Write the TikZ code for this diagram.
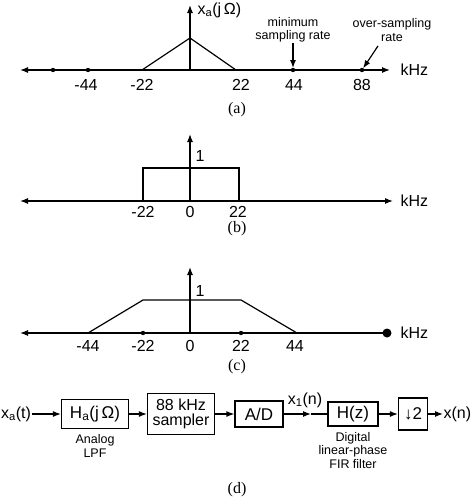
\documentclass[tikz,border=0pt]{standalone}
\usepackage{fontspec}
\setmainfont{Liberation Sans}
\newfontfamily\capfont{Liberation Serif}
\usetikzlibrary{positioning,arrows.meta,calc}

\begin{document}
\begin{tikzpicture}[x=1pt,y=-1pt,line width=1.2pt,
  >={Latex[length=8pt,width=6pt]},
  num/.style={font=\fontsize{16}{17}\selectfont,inner sep=0pt},
  note/.style={font=\fontsize{12.5}{13.5}\selectfont,align=center,inner sep=0pt},
  capt/.style={font=\capfont\fontsize{16}{17}\selectfont,inner sep=0pt},
  blk/.style={draw,inner sep=0pt,align=center,font=\fontsize{17}{15}\selectfont}]

  \useasboundingbox (0,0) rectangle (474,499);

  % (a)
  \draw[<->] (20,70) -- (390,70);
  \draw[->] (190,70) -- (190,5);
  \draw (142,70) -- (190,38) -- (236,70);
  \foreach \x in {53,88} \fill (\x,70) circle (2.2);
  \coordinate (d44) at (293,70);
  \coordinate (d88) at (362,70);
  \fill (d44) circle (2.2);
  \fill (d88) circle (2.2);
  \node[num] (a1) at (86,85) {-44};
  \node[num] (a2) at (142,85) {-22};
  \node[num] (a3) at (241,85) {22};
  \node[num] (a4) at (294,85) {44};
  \node[num] (a5) at (362,85) {88};
  \node[num,anchor=west] (ka) at (400,70) {kHz};
  \node[num,anchor=west] (ya) at (197,10) {x\textsubscript{a}(j\,Ω)};
  \node[note] (n1) at (293,30) {minimum\\sampling rate};
  \node[note] (n2) at (392,30) {over-sampling\\rate};
  \draw[->,shorten >=2pt] (n1.south) -- (d44);
  \draw[->,shorten >=2pt] ($(n2.south)+(-14,4)$) -- (d88);
  \node[capt] (ca) at (237,110) {(a)};

  % (b)
  \draw[<->] (20,201) -- (393,201);
  \draw[->] (190,201) -- (190,134);
  \draw (143,201) -- (143,168) -- (239,168) -- (239,201);
  \node[num] (b1l) at (143,212) {-22};
  \node[num] (b2l) at (190,212) {0};
  \node[num] (b3l) at (238,212) {22};
  \node[num,anchor=west] (kb) at (195,156) {1};
  \node[num,anchor=west] (kb) at (400,201) {kHz};
  \node[capt] (cb) at (237,229) {(b)};

  % (c)
  \draw[<-] (20,333) -- (387,333);
  \fill (387,333) circle (4.5);
  \draw[->] (190,333) -- (190,267);
  \draw (88,333) -- (143,300) -- (241,300) -- (297,333);
  \foreach \x in {143,241} \fill (\x,333) circle (2.2);
  \node[num] (c1l) at (88,346) {-44};
  \node[num] (c2l) at (143,346) {-22};
  \node[num] (c3l) at (190,346) {0};
  \node[num] (c4l) at (241,346) {22};
  \node[num] (c5l) at (295,346) {44};
  \node[num,anchor=west] (c1) at (195,291) {1};
  \node[num,anchor=west] (kc) at (400,333) {kHz};
  \node[capt] (cc) at (237,367) {(c)};

  % (d)
  \node[num] (xa) at (16,414) {x\textsubscript{a}(t)};
  \node[blk,minimum width=67pt,minimum height=29pt] (f1) at (95,414) {H\textsubscript{a}(j\,Ω)};
  \node[blk,minimum width=67pt,minimum height=41pt,font=\fontsize{16}{15}\selectfont] (f2) at (181,414) {88 kHz\\sampler};
  \node[blk,minimum width=48pt,minimum height=26pt] (f3) at (259,414) {A/D};
  \node[blk,minimum width=50pt,minimum height=24pt] (f4) at (353,414) {H(z)};
  \node[blk,minimum width=29pt,minimum height=32pt] (f5) at (413,414) {\textbf{↓}2};
  \node[num,anchor=west] (xn) at (443,414) {x(n)};
  \coordinate (m1) at (311,414);
  \node[num] (x1) at (305,400) {x\textsubscript{1}(n)};
  \node[note,below=5pt of f1] (l1) {Analog\\LPF};
  \node[note,below=5pt of f4] (l4) {Digital\\linear-phase\\FIR filter};

  \path[->] (xa) edge (f1);
  \path[->] (f1) edge (f2);
  \path[->] (f2) edge (f3);
  \path[->] (f3) edge (m1);
  \path[-] (m1) edge (f4);
  \path[->] (f4) edge (f5);
  \path[->] (f5) edge (xn);

  \node[capt] (cd) at (237,490) {(d)};

\end{tikzpicture}
\end{document}
